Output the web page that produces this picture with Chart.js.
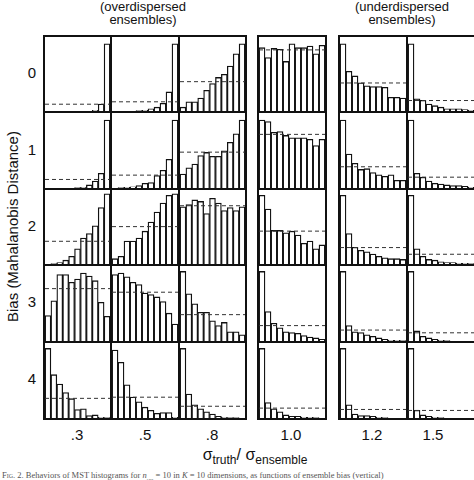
<!DOCTYPE html>
<html><head><meta charset="utf-8">
<script src="https://cdn.jsdelivr.net/npm/chart.js@4.4.1/dist/chart.umd.min.js"></script>
<style>
body{margin:0;background:#fff;width:474px;height:480px;overflow:hidden;position:relative;font-family:"Liberation Sans",Arial,sans-serif;color:#111}
.p{position:absolute;border:2px solid #111;box-sizing:border-box;background:#fff}
.t{position:absolute;white-space:nowrap;text-align:center}
</style></head><body>
<script>
const bins = [0,1,2,3,4,5,6,7,8,9,10];
const columnLabels = [".3", ".5", ".8", "1.0", "1.2", "1.5"];
const rowLabels = ["0", "1", "2", "3", "4"];
// bias 0
const r0c0 = [0,0,0,0,0,0,0,0,0.01,0.09,0.88];
const r0c1 = [0,0,0,0,0.005,0.01,0.03,0.05,0.1,0.25,0.88];
const r0c2 = [0.05,0.12,0.12,0.17,0.27,0.36,0.44,0.48,0.59,0.75,0.88];
const r0c3 = [0.83,0.7,0.82,0.81,0.65,0.88,0.83,0.83,0.85,0.75,0.86];
const r0c4 = [0.88,0.52,0.46,0.37,0.33,0.32,0.32,0.31,0.18,0.18,0.17];
const r0c5 = [0.88,0.16,0.14,0.09,0.07,0.05,0.03,0.03,0.03,0.02,0.01];
// bias 1
const r1c0 = [0,0,0,0,0,0.005,0.01,0.04,0.09,0.19,0.88];
const r1c1 = [0,0.005,0.01,0.015,0.03,0.06,0.07,0.16,0.23,0.37,0.88];
const r1c2 = [0.18,0.26,0.31,0.42,0.46,0.41,0.41,0.48,0.59,0.7,0.88];
const r1c3 = [0.88,0.86,0.72,0.73,0.68,0.65,0.65,0.65,0.63,0.55,0.63];
const r1c4 = [0.88,0.44,0.32,0.24,0.25,0.2,0.17,0.15,0.17,0.1,0.1];
const r1c5 = [0.88,0.19,0.14,0.09,0.06,0.05,0.04,0.03,0.03,0.02,0.01];
// bias 2
const r2c0 = [0,0.005,0.02,0.05,0.1,0.2,0.34,0.4,0.5,0.74,0.92];
const r2c1 = [0.07,0.1,0.3,0.3,0.34,0.43,0.55,0.68,0.8,0.9,0.92];
const r2c2 = [0.75,0.78,0.84,0.82,0.66,0.86,0.8,0.7,0.74,0.7,0.75];
const r2c3 = [0.9,0.72,0.44,0.44,0.41,0.43,0.38,0.27,0.3,0.2,0.25];
const r2c4 = [0.9,0.4,0.22,0.18,0.16,0.13,0.1,0.08,0.07,0.07,0.06];
const r2c5 = [0.9,0.2,0.1,0.06,0.05,0.03,0.02,0.02,0.01,0.01,0.005];
// bias 3
const r3c0 = [0.33,0.52,0.86,0.86,0.76,0.8,0.88,0.84,0.78,0.5,0.32];
const r3c1 = [0.86,0.88,0.83,0.76,0.73,0.62,0.6,0.57,0.51,0.36,0.22];
const r3c2 = [0.9,0.61,0.48,0.37,0.37,0.26,0.2,0.24,0.12,0.12,0.08];
const r3c3 = [0.9,0.38,0.23,0.17,0.12,0.11,0.1,0.07,0.05,0.04,0.02];
const r3c4 = [0.9,0.2,0.12,0.11,0.08,0.06,0.04,0.02,0.01,0.01,0.005];
const r3c5 = [0.9,0.13,0.06,0.04,0.02,0.01,0.005,0,0,0,0];
// bias 4
const r4c0 = [0.9,0.56,0.44,0.33,0.25,0.11,0.12,0.03,0.04,0.01,0.005];
const r4c1 = [0.88,0.72,0.43,0.27,0.21,0.14,0.1,0.06,0.07,0.07,0.01];
const r4c2 = [0.9,0.31,0.17,0.12,0.08,0.05,0.02,0.01,0.005,0.005,0];
const r4c3 = [0.9,0.2,0.12,0.08,0.04,0.02,0.02,0.01,0.01,0.005,0];
const r4c4 = [0.9,0.17,0.05,0.03,0.03,0.02,0.01,0.005,0,0,0];
const r4c5 = [0.9,0.1,0.04,0.02,0.01,0.005,0,0,0,0,0];

const grid = [
  [r0c0,r0c1,r0c2,r0c3,r0c4,r0c5],
  [r1c0,r1c1,r1c2,r1c3,r1c4,r1c5],
  [r2c0,r2c1,r2c2,r2c3,r2c4,r2c5],
  [r3c0,r3c1,r3c2,r3c3,r3c4,r3c5],
  [r4c0,r4c1,r4c2,r4c3,r4c4,r4c5]
];

const colX = [43,110,178,257,338,406];
const colR = [112,180,247,327,408,476];
const rowY = [35,111,188,264,341,418];

const meanLine = {
  id:'meanLine',
  afterDatasetsDraw(chart){
    const d = chart.data.datasets[0].data;
    const m = d.reduce((a,b)=>a+b,0)/d.length;
    const y = chart.scales.y.getPixelForValue(m);
    const ctx = chart.ctx, a = chart.chartArea;
    ctx.save(); ctx.strokeStyle='#333'; ctx.lineWidth=1; ctx.setLineDash([4,3]);
    ctx.beginPath(); ctx.moveTo(a.left,y); ctx.lineTo(a.right,y); ctx.stroke(); ctx.restore();
  }
};

function add(html, css){ const e=document.createElement('div'); e.className='t'; e.innerHTML=html; Object.assign(e.style,css); document.body.appendChild(e); return e; }

for(let r=0;r<5;r++){
  for(let c=0;c<6;c++){
    const div=document.createElement('div'); div.className='p';
    const w = colR[c]-colX[c], h=rowY[r+1]-rowY[r]+2;
    Object.assign(div.style,{left:colX[c]+'px',top:rowY[r]+'px',width:w+'px',height:h+'px'});
    const cv=document.createElement('canvas');
    cv.width=w-4; cv.height=h-4; cv.style.width=(w-4)+'px'; cv.style.height=(h-4)+'px';
    div.appendChild(cv); document.body.appendChild(div);
    new Chart(cv,{type:'bar',
      data:{labels:bins,datasets:[{data:grid[r][c],
        backgroundColor:'#fff',borderColor:'#111',borderWidth:{top:1.3,left:1.3,right:1.3,bottom:0},borderSkipped:false,
        categoryPercentage:1,barPercentage:1}]},
      options:{responsive:false,animation:false,devicePixelRatio:1,
        layout:{padding:0},
        plugins:{legend:{display:false},tooltip:{enabled:false}},
        scales:{x:{display:false},y:{display:false,min:0,max:0.97}}},
      plugins:[meanLine]});
  }
}

add('(overdispersed<br>ensembles)',{left:'83px',top:'0px',width:'120px',fontSize:'13px',lineHeight:'13px'});
add('(underdispersed<br>ensembles)',{left:'340px',top:'0px',width:'124px',fontSize:'13px',lineHeight:'13px'});
const ry=[73,150,226,302,379];
rowLabels.forEach((t,i)=>add(t,{left:'22px',top:(ry[i]-9)+'px',width:'20px',fontSize:'15px'}));
const cx=[77,145,212,291,372,433];
columnLabels.forEach((t,i)=>add(t,{left:(cx[i]-20)+'px',top:'426px',width:'40px',fontSize:'15px'}));
add('Bias (Mahalanobis Distance)',{left:'-88px',top:'218px',width:'200px',fontSize:'15px',transform:'rotate(-90deg)'});
add('σ<sub style="font-size:12px">truth</sub>/ σ<sub style="font-size:12px">ensemble</sub>',{left:'180px',top:'446px',width:'150px',fontSize:'16px'});
add('F<span style="font-size:6px">IG</span>. 2. Behaviors of MST histograms for <i>n</i><sub style="font-size:5px">ens</sub> = 10 in <i>K</i> = 10 dimensions, as functions of ensemble bias (vertical)',{left:'2px',top:'470px',fontSize:'8.5px',fontFamily:'"Liberation Serif",serif',color:'#555',textAlign:'left'});
</script>
</body></html>
